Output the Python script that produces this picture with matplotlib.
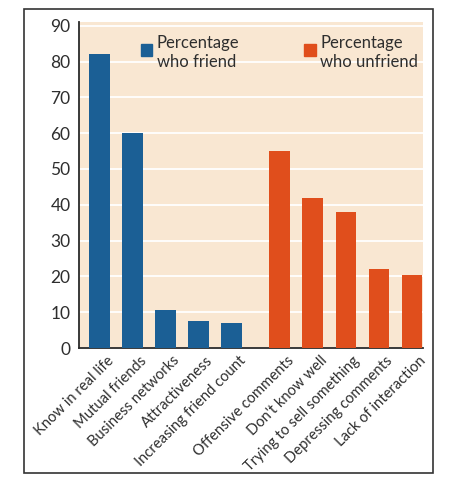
import matplotlib
matplotlib.use("Agg")
import matplotlib.pyplot as plt
from matplotlib.patches import Rectangle
import matplotlib.transforms as mtransforms
import numpy as np

plt.rcParams['font.family'] = ['Lato', 'DejaVu Sans']

friend_labels = ["Know in real life", "Mutual friends", "Business networks",
                 "Attractiveness", "Increasing friend count"]
friend_values = [82, 60, 10.5, 7.5, 7]
unfriend_labels = ["Offensive comments", "Don't know well", "Trying to sell something",
                   "Depressing comments", "Lack of interaction"]
unfriend_values = [55, 42, 38, 22, 20.5]
yticks = [0, 10, 20, 30, 40, 50, 60, 70, 80, 90]

BLUE = "#1b5f95"
RED = "#e04e1c"
BG = "#f9e7d2"
TXT = "#2e2e2e"

fig = plt.figure(figsize=(4.58, 5.03), dpi=100)
ax = fig.add_axes([0.172, 0.308, 0.752, 0.648])

gap = 1.45
xf = np.arange(len(friend_values))
xu = np.arange(len(unfriend_values)) + len(friend_values) - 1 + gap

ax.set_facecolor(BG)
ax.bar(xf, friend_values, width=0.62, color=BLUE, zorder=3)
ax.bar(xu, unfriend_values, width=0.62, color=RED, zorder=3)

ax.set_ylim(0, 91)
ax.set_xlim(-0.62, xu[-1] + 0.34)
ax.set_yticks(yticks)
ax.set_yticklabels([str(v) for v in yticks], fontsize=12.5, color=TXT)
ax.yaxis.grid(True, color="white", linewidth=1.3, zorder=1)
ax.set_axisbelow(True)
ax.tick_params(axis='both', length=0, pad=6)

ax.set_xticks(list(xf) + list(xu))
ax.set_xticklabels(friend_labels + unfriend_labels, rotation=45, ha='right',
                   va='top', rotation_mode='anchor', fontsize=10.6, color=TXT)
ax.tick_params(axis='x', pad=4)
offset = mtransforms.ScaledTranslation(7 / 100, 0, fig.dpi_scale_trans)
for lab in ax.get_xticklabels():
    lab.set_transform(lab.get_transform() + offset)

for s in ['top', 'right']:
    ax.spines[s].set_visible(False)
for s in ['left', 'bottom']:
    ax.spines[s].set_color("#2a2a2a")
    ax.spines[s].set_linewidth(1.3)

# legend (drawn manually)
def legend_item(xa, color, text):
    ax.add_patch(Rectangle((xa, 0.895), 0.034, 0.037, transform=ax.transAxes,
                           color=color, clip_on=False, zorder=4))
    ax.text(xa + 0.046, 0.96, text, transform=ax.transAxes, fontsize=12,
            va='top', ha='left', color=TXT, linespacing=1.2, zorder=4)

legend_item(0.18, BLUE, "Percentage\nwho friend")
legend_item(0.655, RED, "Percentage\nwho unfriend")

# outer frame
fig.add_artist(Rectangle((24 / 458, 1 - 473 / 503), (433 - 24) / 458, (473 - 9) / 503,
                         transform=fig.transFigure, fill=False,
                         edgecolor="#333333", linewidth=1.2))

fig.savefig("out.png", dpi=100, facecolor="white")
